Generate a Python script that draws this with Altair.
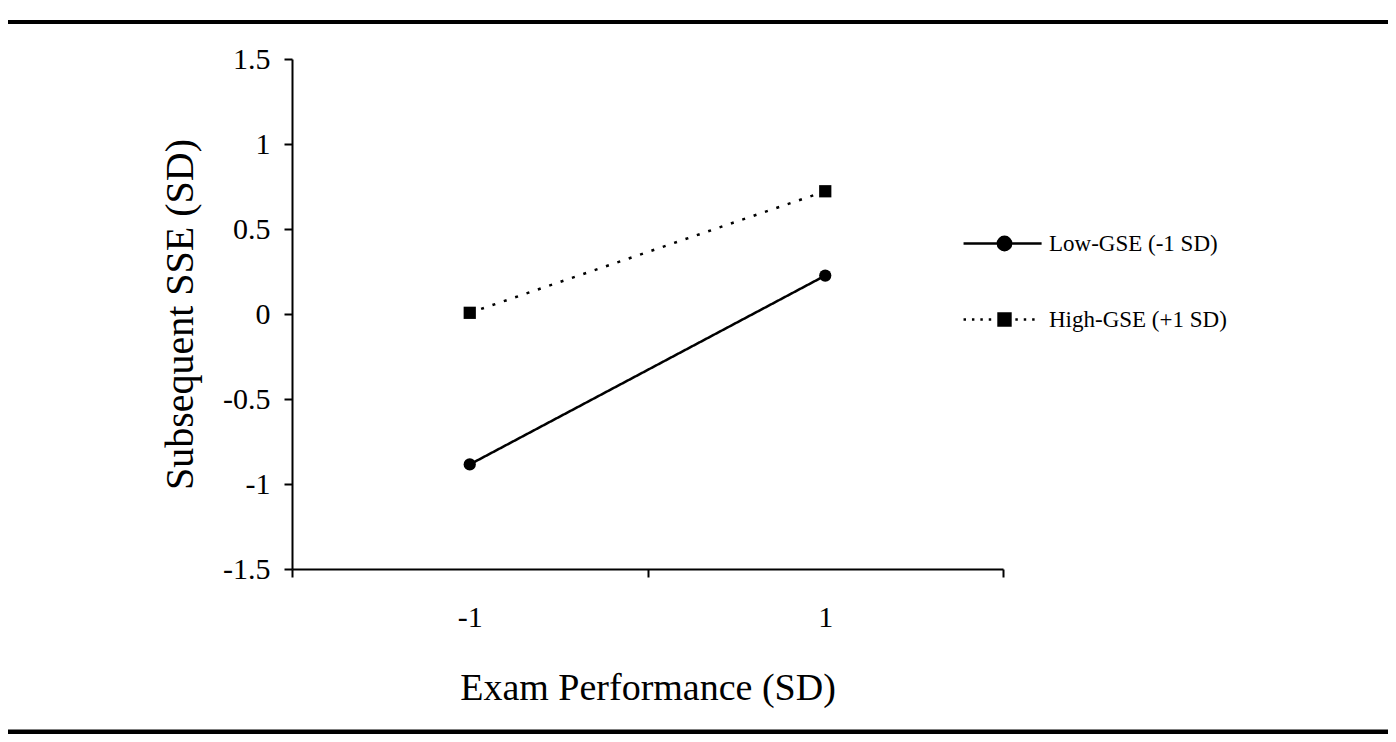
import altair as alt
import pandas as pd

# ---- data ----
exam_levels = [-1, 1]
series_names = ["Low-GSE (-1 SD)", "High-GSE (+1 SD)"]
low_gse = [-0.885, 0.226]
high_gse = [0.007, 0.722]
y_ticks = [-1.5, -1, -0.5, 0, 0.5, 1, 1.5]
x_ticks = [-2, -1, 0, 1, 2]

rows = []
for name, vals in zip(series_names, [low_gse, high_gse]):
    for x, v in zip(exam_levels, vals):
        rows.append({"exam": x, "sse": v, "series": name})
df = pd.DataFrame(rows)

FONT = "Liberation Serif"

# legend symbols: a line with its marker, as custom symbol paths
LOW_PATH = ("M-1.17,0L1.06,0"
            "M-0.19,0A0.19,0.19,0,1,0,0.19,0A0.19,0.19,0,1,0,-0.19,0Z")
HIGH_PATH = ("M-1.17,0L-1.1,0M-0.93,0L-0.86,0M-0.69,0L-0.62,0M-0.45,0L-0.38,0"
             "M0.31,0L0.38,0M0.55,0L0.62,0M0.79,0L0.86,0"
             "M-0.17,-0.17L0.17,-0.17L0.17,0.17L-0.17,0.17Z")

x_enc = alt.X(
    "exam:Q",
    scale=alt.Scale(domain=[-2, 2], nice=False, zero=False),
    axis=alt.Axis(
        values=x_ticks,
        title="Exam Performance (SD)",
        labelExpr="abs(datum.value) == 1 ? toString(datum.value) : ''",
        tickColor={"condition": {"test": "abs(datum.value) == 1", "value": "transparent"},
                   "value": "black"},
        tickSize=8, tickWidth=2, domainWidth=2,
        labelFontSize=30, labelPadding=25,
        titleFontSize=38, titlePadding=37,
        labelFlush=False, labelOverlap=False,
    ),
)
y_enc = alt.Y(
    "sse:Q",
    scale=alt.Scale(domain=[-1.5, 1.5], nice=False, zero=False),
    axis=alt.Axis(
        values=y_ticks,
        title="Subsequent SSE (SD)",
        labelExpr="toString(datum.value)",
        tickSize=8, tickWidth=2, domainWidth=2,
        labelFontSize=30, labelPadding=14,
        titleFontSize=40, titlePadding=22,
        labelFlush=False, labelOverlap=False,
    ),
)

lines = alt.Chart(df).mark_line(color="black", strokeWidth=2.5).encode(
    x=x_enc,
    y=y_enc,
    strokeDash=alt.StrokeDash(
        "series:N",
        scale=alt.Scale(domain=series_names, range=[[1, 0], [3, 9]]),
        legend=None,
    ),
    detail="series:N",
)


def legend_props(path, y):
    return dict(
        title=None, orient="none", legendX=676, legendY=y, padding=0,
        symbolType=path, symbolSize=4900, symbolStrokeColor="black",
        symbolStrokeWidth=2.5, symbolOpacity=1,
        labelFont=FONT, labelFontSize=23, labelColor="black",
        labelOffset=8, labelLimit=300,
    )


# one single-entry legend per series, carried by the marker layers
low_points = (
    alt.Chart(df)
    .transform_filter(alt.datum.series == series_names[0])
    .mark_point(filled=True, opacity=1, size=150, shape="circle")
    .encode(
        x="exam:Q",
        y="sse:Q",
        color=alt.Color(
            "series:N",
            scale=alt.Scale(domain=[series_names[0]], range=["black"]),
            legend=alt.Legend(**legend_props(LOW_PATH, 148)),
        ),
    )
)
high_points = (
    alt.Chart(df)
    .transform_filter(alt.datum.series == series_names[1])
    .mark_point(filled=True, opacity=1, size=150, shape="square")
    .encode(
        x="exam:Q",
        y="sse:Q",
        fill=alt.Fill(
            "series:N",
            scale=alt.Scale(domain=[series_names[1]], range=["black"]),
            legend=alt.Legend(**legend_props(HIGH_PATH, 224)),
        ),
    )
)

one = alt.Data(values=[{"k": 0}])
top_rule = alt.Chart(one).mark_rule(color="black").encode(
    x=alt.value(-284), x2=alt.value(1096), y=alt.value(-37), strokeWidth=alt.value(4)
)
bottom_rule = alt.Chart(one).mark_rule(color="black").encode(
    x=alt.value(-284), x2=alt.value(1096), y=alt.value(673), strokeWidth=alt.value(5)
)

chart = (
    alt.layer(lines, low_points, high_points, top_rule, bottom_rule)
    .properties(
        width=711,
        height=510,
        autosize=alt.AutoSizeParams(type="none"),
        padding={"left": 284, "top": 51, "right": 385, "bottom": 165},
        background="white",
    )
    .configure_view(stroke=None)
    .configure_axis(
        grid=False,
        domainColor="black",
        tickColor="black",
        labelColor="black",
        titleColor="black",
        labelFont=FONT,
        titleFont=FONT,
        titleFontWeight="normal",
    )
)

chart.save("out.html", embed_options={"renderer": "svg", "actions": False})
